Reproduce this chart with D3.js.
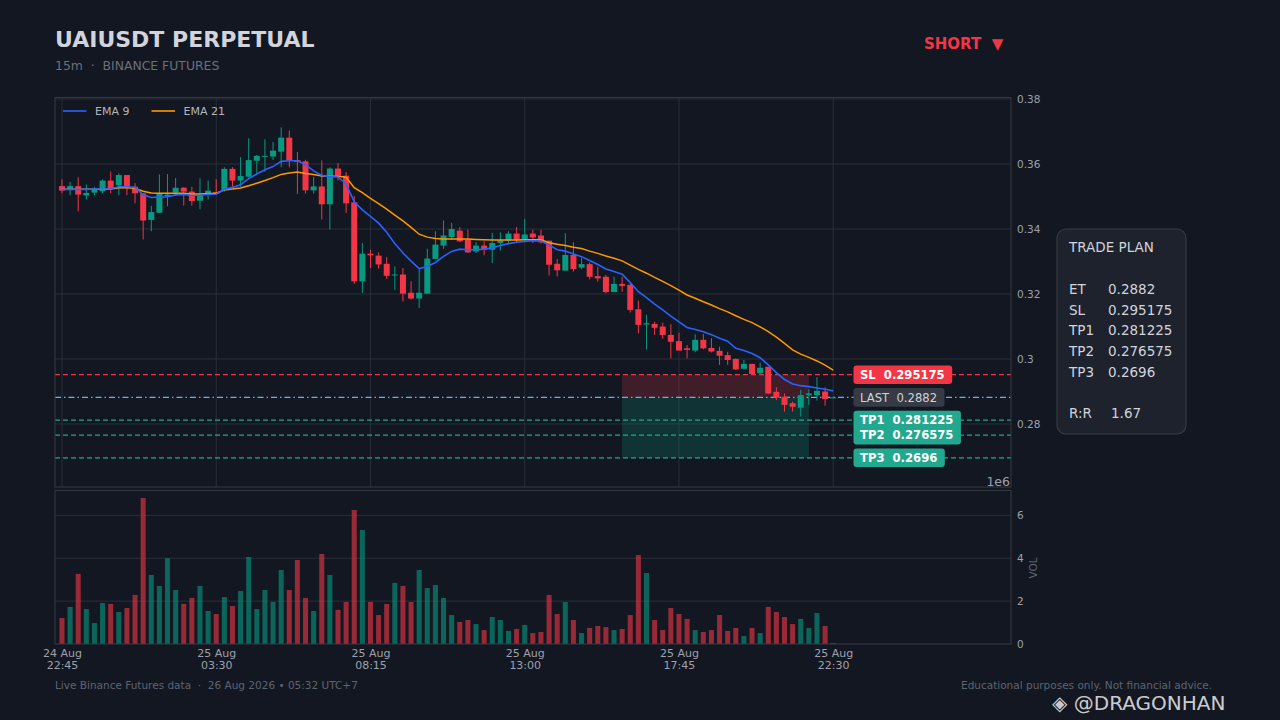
<!DOCTYPE html>
<html>
<head>
<meta charset="utf-8">
<script src="https://cdn.jsdelivr.net/npm/d3@7"></script>
<style>
  html, body { margin: 0; padding: 0; background: #131722; }
  svg { display: block; font-family: "DejaVu Sans", sans-serif; }
  svg text { white-space: pre; }
</style>
</head>
<body>
<svg id="chart" width="1280" height="720"></svg>
<script>
// 15m candles, 24 Aug 22:45 -> 25 Aug 22:30 (96 bars)
const open = [
  0.3532, 0.3522, 0.3532, 0.3503, 0.3512, 0.3516, 0.3549, 0.3535, 0.3566, 0.3530,
  0.3510, 0.3428, 0.3450, 0.3500, 0.3512, 0.3527, 0.3515, 0.3487, 0.3509, 0.3514,
  0.3520, 0.3585, 0.3549, 0.3561, 0.3610, 0.3623, 0.3623, 0.3638, 0.3681, 0.3612,
  0.3608, 0.3519, 0.3531, 0.3476, 0.3586, 0.3564, 0.3482, 0.3239, 0.3324, 0.3318,
  0.3293, 0.3259, 0.3260, 0.3204, 0.3186, 0.3201, 0.3308, 0.3349, 0.3375, 0.3395,
  0.3367, 0.3331, 0.3349, 0.3336, 0.3357, 0.3365, 0.3386, 0.3369, 0.3386, 0.3380,
  0.3364, 0.3293, 0.3272, 0.3320, 0.3281, 0.3292, 0.3255, 0.3253, 0.3206, 0.3231,
  0.3228, 0.3153, 0.3106, 0.3108, 0.3100, 0.3074, 0.3055, 0.3033, 0.3026, 0.3059,
  0.3034, 0.3025, 0.3012, 0.3000, 0.2970, 0.2985, 0.2956, 0.2976, 0.2899, 0.2884,
  0.2864, 0.2850, 0.2889, 0.2889, 0.2900, 0.2880
];
const high = [
  0.3553, 0.3545, 0.3559, 0.3537, 0.3530, 0.3553, 0.3577, 0.3571, 0.3566, 0.3541,
  0.3510, 0.3471, 0.3568, 0.3569, 0.3557, 0.3529, 0.3530, 0.3556, 0.3549, 0.3553,
  0.3590, 0.3590, 0.3621, 0.3679, 0.3628, 0.3676, 0.3668, 0.3713, 0.3703, 0.3637,
  0.3613, 0.3560, 0.3611, 0.3590, 0.3603, 0.3575, 0.3501, 0.3357, 0.3336, 0.3328,
  0.3314, 0.3285, 0.3280, 0.3239, 0.3278, 0.3339, 0.3393, 0.3426, 0.3419, 0.3406,
  0.3398, 0.3359, 0.3362, 0.3388, 0.3390, 0.3393, 0.3406, 0.3431, 0.3398, 0.3398,
  0.3364, 0.3308, 0.3387, 0.3359, 0.3311, 0.3297, 0.3284, 0.3259, 0.3253, 0.3253,
  0.3233, 0.3180, 0.3136, 0.3115, 0.3112, 0.3107, 0.3081, 0.3043, 0.3076, 0.3077,
  0.3064, 0.3038, 0.3022, 0.3002, 0.2997, 0.2985, 0.2989, 0.2976, 0.2913, 0.2894,
  0.2869, 0.2905, 0.2907, 0.2944, 0.2913, 0.2884
];
const low = [
  0.3510, 0.3504, 0.3454, 0.3491, 0.3504, 0.3510, 0.3510, 0.3504, 0.3504, 0.3479,
  0.3368, 0.3393, 0.3450, 0.3470, 0.3502, 0.3472, 0.3472, 0.3461, 0.3491, 0.3508,
  0.3515, 0.3530, 0.3530, 0.3559, 0.3571, 0.3576, 0.3612, 0.3590, 0.3590, 0.3508,
  0.3509, 0.3509, 0.3429, 0.3398, 0.3549, 0.3449, 0.3231, 0.3203, 0.3280, 0.3278,
  0.3246, 0.3213, 0.3177, 0.3183, 0.3157, 0.3201, 0.3308, 0.3339, 0.3367, 0.3360,
  0.3326, 0.3326, 0.3319, 0.3295, 0.3334, 0.3357, 0.3357, 0.3362, 0.3357, 0.3355,
  0.3257, 0.3254, 0.3272, 0.3269, 0.3276, 0.3245, 0.3238, 0.3202, 0.3206, 0.3207,
  0.3143, 0.3079, 0.3030, 0.3074, 0.3062, 0.3002, 0.3026, 0.3002, 0.3021, 0.3030,
  0.3020, 0.2982, 0.2982, 0.2966, 0.2968, 0.2951, 0.2954, 0.2892, 0.2874, 0.2838,
  0.2838, 0.2823, 0.2859, 0.2872, 0.2856, 0.2879
];
const close = [
  0.3518, 0.3532, 0.3506, 0.3511, 0.3520, 0.3549, 0.3524, 0.3566, 0.3530, 0.3510,
  0.3426, 0.3452, 0.3510, 0.3506, 0.3527, 0.3515, 0.3486, 0.3505, 0.3518, 0.3508,
  0.3585, 0.3549, 0.3563, 0.3612, 0.3625, 0.3625, 0.3641, 0.3681, 0.3612, 0.3606,
  0.3519, 0.3531, 0.3476, 0.3586, 0.3564, 0.3479, 0.3239, 0.3324, 0.3319, 0.3291,
  0.3256, 0.3260, 0.3201, 0.3186, 0.3204, 0.3309, 0.3352, 0.3380, 0.3400, 0.3362,
  0.3328, 0.3349, 0.3336, 0.3357, 0.3365, 0.3386, 0.3367, 0.3383, 0.3374, 0.3359,
  0.3290, 0.3273, 0.3320, 0.3277, 0.3292, 0.3253, 0.3248, 0.3206, 0.3231, 0.3225,
  0.3151, 0.3105, 0.3110, 0.3096, 0.3074, 0.3053, 0.3026, 0.3028, 0.3059, 0.3033,
  0.3023, 0.3010, 0.2997, 0.2968, 0.2985, 0.2954, 0.2973, 0.2894, 0.2881, 0.2859,
  0.2853, 0.2889, 0.2894, 0.2902, 0.2877, 0.2882
];
// volume in millions (axis offset 1e6)
const volume = [
  1.21, 1.73, 3.27, 1.63, 0.98, 1.91, 1.87, 1.49, 1.68, 2.29,
  6.81, 3.22, 2.71, 4.00, 2.52, 1.87, 2.15, 2.71, 1.54, 1.40,
  2.19, 1.77, 2.47, 4.06, 1.63, 2.52, 1.96, 3.45, 2.52, 3.92,
  2.15, 1.54, 4.20, 3.22, 1.59, 1.96, 6.25, 5.32, 1.96, 1.35,
  1.87, 2.85, 2.71, 1.96, 3.45, 2.61, 2.75, 2.15, 1.35, 1.03,
  1.12, 0.93, 0.65, 1.26, 1.12, 0.61, 0.70, 0.89, 0.51, 0.56,
  2.29, 1.40, 1.96, 1.12, 0.51, 0.75, 0.84, 0.79, 0.65, 0.70,
  1.35, 4.15, 3.31, 1.12, 0.65, 1.68, 1.40, 1.17, 0.65, 0.56,
  0.65, 1.35, 0.61, 0.75, 0.37, 0.75, 0.51, 1.73, 1.49, 1.26,
  0.93, 1.17, 0.75, 1.45, 0.84, 0.05
];
const ema9 = [
  0.3522, 0.3522, 0.3522, 0.3522, 0.3523, 0.3523, 0.3524, 0.3530, 0.3530, 0.3528,
  0.3505, 0.3497, 0.3498, 0.3499, 0.3505, 0.3506, 0.3503, 0.3504, 0.3506, 0.3507,
  0.3522, 0.3528, 0.3536, 0.3555, 0.3569, 0.3582, 0.3592, 0.3608, 0.3610, 0.3610,
  0.3598, 0.3579, 0.3565, 0.3561, 0.3560, 0.3538, 0.3484, 0.3459, 0.3439, 0.3418,
  0.3390, 0.3355, 0.3326, 0.3301, 0.3278, 0.3285, 0.3297, 0.3316, 0.3331, 0.3338,
  0.3336, 0.3336, 0.3338, 0.3342, 0.3349, 0.3355, 0.3359, 0.3362, 0.3364, 0.3363,
  0.3351, 0.3336, 0.3332, 0.3323, 0.3315, 0.3303, 0.3291, 0.3277, 0.3269, 0.3261,
  0.3235, 0.3207, 0.3189, 0.3169, 0.3151, 0.3132, 0.3114, 0.3097, 0.3091, 0.3084,
  0.3075, 0.3064, 0.3055, 0.3033, 0.3026, 0.3017, 0.3004, 0.2982, 0.2958, 0.2937,
  0.2923, 0.2918, 0.2915, 0.2911, 0.2907, 0.2902
];
const ema21 = [
  0.3522, 0.3522, 0.3522, 0.3522, 0.3522, 0.3522, 0.3523, 0.3527, 0.3527, 0.3525,
  0.3516, 0.3511, 0.3510, 0.3510, 0.3510, 0.3510, 0.3508, 0.3508, 0.3509, 0.3510,
  0.3520, 0.3523, 0.3526, 0.3533, 0.3541, 0.3549, 0.3558, 0.3568, 0.3572, 0.3575,
  0.3571, 0.3568, 0.3563, 0.3562, 0.3562, 0.3559, 0.3527, 0.3512, 0.3494, 0.3478,
  0.3461, 0.3443, 0.3425, 0.3405, 0.3384, 0.3375, 0.3371, 0.3369, 0.3369, 0.3369,
  0.3369, 0.3368, 0.3367, 0.3366, 0.3366, 0.3366, 0.3366, 0.3367, 0.3367, 0.3367,
  0.3358, 0.3353, 0.3349, 0.3344, 0.3340, 0.3332, 0.3325, 0.3317, 0.3310, 0.3302,
  0.3289, 0.3276, 0.3264, 0.3251, 0.3239, 0.3226, 0.3212, 0.3197, 0.3187, 0.3176,
  0.3166, 0.3155, 0.3145, 0.3133, 0.3122, 0.3112, 0.3099, 0.3084, 0.3067, 0.3048,
  0.3028, 0.3015, 0.3005, 0.2994, 0.2981, 0.2966
];

const tickIndex = [0, 19, 38, 57, 76, 95];
const tickDate = ["24 Aug", "25 Aug", "25 Aug", "25 Aug", "25 Aug", "25 Aug"];
const tickTime = ["22:45", "03:30", "08:15", "13:00", "17:45", "22:30"];
const priceTicks = [0.28, 0.30, 0.32, 0.34, 0.36, 0.38];
const priceTickLabels = ["0.28", "0.3", "0.32", "0.34", "0.36", "0.38"];
const volTicks = [0, 2, 4, 6];

const entry = 0.2882;
const levelNames = ["SL", "TP1", "TP2", "TP3"];
const levelValues = [0.295175, 0.281225, 0.276575, 0.2696];
const zoneStart = 69, zoneEnd = 92;
const planLabels = ["ET", "SL", "TP1", "TP2", "TP3"];
const planValues = ["0.2882", "0.295175", "0.281225", "0.276575", "0.2696"];
const riskReward = "1.67";

const UP = "#089981", DOWN = "#f23645", GRID = "#2a2e39", SPINE = "#363a45";
const BG = "#131722", TEXT = "#d1d4dc", MUTED = "#9ea1aa", TEAL = "#22a88f";

const svg = d3.select("#chart");
svg.append("rect").attr("width", 1280).attr("height", 720).attr("fill", BG);

const L = 55, R = 1011;
const top1 = 97.5, bot1 = 487, top2 = 490.5, bot2 = 644;

const x = d3.scaleLinear().domain([-0.86, 116.9]).range([L, R]);
const y = d3.scaleLinear().domain([0.26062, 0.38046]).range([bot1, top1]);
const yv = d3.scaleLinear().domain([0, 7.16]).range([bot2, top2]);
const step = x(1) - x(0);

svg.append("clipPath").attr("id", "clip1")
  .append("rect").attr("x", L).attr("y", top1).attr("width", R - L).attr("height", bot1 - top1);

// grid
const grid = svg.append("g").attr("stroke", GRID).attr("stroke-width", 1);
grid.selectAll(".hy").data(priceTicks).join("line")
    .attr("x1", L).attr("x2", R)
    .attr("y1", d => y(d)).attr("y2", d => y(d));
grid.selectAll(".vx").data(tickIndex).join("line")
    .attr("x1", d => x(d)).attr("x2", d => x(d))
    .attr("y1", top1).attr("y2", bot1);
grid.selectAll(".hv").data(volTicks.slice(1)).join("line")
    .attr("x1", L).attr("x2", R)
    .attr("y1", d => yv(d)).attr("y2", d => yv(d));

const candles = d3.range(open.length).map(i => ({
  i, o: open[i], h: high[i], l: low[i], c: close[i], v: volume[i], up: close[i] >= open[i]
}));

const main = svg.append("g").attr("clip-path", "url(#clip1)");

// trade zone
main.append("rect")
    .attr("x", x(zoneStart)).attr("width", x(zoneEnd) - x(zoneStart))
    .attr("y", y(levelValues[0])).attr("height", y(entry) - y(levelValues[0]))
    .attr("fill", DOWN).attr("fill-opacity", 0.2);
main.append("rect")
    .attr("x", x(zoneStart)).attr("width", x(zoneEnd) - x(zoneStart))
    .attr("y", y(entry)).attr("height", y(levelValues[3]) - y(entry))
    .attr("fill", UP).attr("fill-opacity", 0.22);

// level lines
main.selectAll(".lvl").data(levelValues).join("line")
    .attr("x1", L).attr("x2", R)
    .attr("y1", d => y(d)).attr("y2", d => y(d))
    .attr("stroke", (d, i) => i === 0 ? DOWN : TEAL)
    .attr("stroke-width", 1.2)
    .attr("stroke-dasharray", "5,3");
main.append("line")
    .attr("x1", L).attr("x2", R)
    .attr("y1", y(entry)).attr("y2", y(entry))
    .attr("stroke", "#5fb3ee").attr("stroke-width", 1.1)
    .attr("stroke-dasharray", "6,3,1.5,3");

// candles
const cg = main.append("g");
cg.selectAll(".wick").data(candles).join("line")
    .attr("x1", d => x(d.i)).attr("x2", d => x(d.i))
    .attr("y1", d => y(d.h)).attr("y2", d => y(d.l))
    .attr("stroke", d => d.up ? UP : DOWN).attr("stroke-width", 1);
cg.selectAll(".body").data(candles).join("rect")
    .attr("x", d => x(d.i) - step * 0.37)
    .attr("width", step * 0.74)
    .attr("y", d => y(Math.max(d.o, d.c)))
    .attr("height", d => Math.max(1, Math.abs(y(d.o) - y(d.c))))
    .attr("fill", d => d.up ? UP : DOWN);

// EMAs
const line = arr => d3.line().x((d, i) => x(i)).y(d => y(d))(arr);
main.append("path").attr("d", line(ema21))
    .attr("fill", "none").attr("stroke", "#ff9800").attr("stroke-width", 1.5);
main.append("path").attr("d", line(ema9))
    .attr("fill", "none").attr("stroke", "#2962ff").attr("stroke-width", 1.6);

// volume
svg.append("g").selectAll("rect").data(candles).join("rect")
    .attr("x", d => x(d.i) - step * 0.31)
    .attr("width", step * 0.62)
    .attr("y", d => yv(d.v))
    .attr("height", d => yv(0) - yv(d.v))
    .attr("fill", d => d.up ? UP : DOWN)
    .attr("fill-opacity", 0.6);

// spines
[[top1, bot1], [top2, bot2]].forEach(([t, b]) => {
  svg.append("rect").attr("x", L).attr("y", t).attr("width", R - L).attr("height", b - t)
      .attr("fill", "none").attr("stroke", SPINE).attr("stroke-width", 1);
});

// axes
const yAxis = svg.append("g").attr("transform", `translate(${R},0)`)
    .call(d3.axisRight(y).tickValues(priceTicks)
      .tickFormat((d, i) => priceTickLabels[i]).tickSize(0).tickPadding(6));
const vAxis = svg.append("g").attr("transform", `translate(${R},0)`)
    .call(d3.axisRight(yv).tickValues(volTicks).tickFormat(d3.format("d")).tickSize(0).tickPadding(6));
const xAxis = svg.append("g").attr("transform", `translate(0,${bot2})`)
    .call(d3.axisBottom(x).tickValues(tickIndex).tickSize(0).tickFormat(""));
[yAxis, vAxis, xAxis].forEach(g => {
  g.select(".domain").remove();
  g.selectAll("text").attr("fill", MUTED).attr("font-size", 10.5)
      .attr("font-family", "DejaVu Sans");
});
xAxis.selectAll(".tick text").each(function(d, k) {
  const t = d3.select(this).attr("y", 0).attr("dy", null).attr("font-size", 11);
  t.append("tspan").attr("x", 0).attr("y", 13).text(tickDate[k]);
  t.append("tspan").attr("x", 0).attr("y", 25).text(tickTime[k]);
});

svg.append("text").attr("x", 1010).attr("y", 486).attr("text-anchor", "end")
    .attr("fill", MUTED).attr("font-size", 12.5).text("1e6");
svg.append("text").attr("transform", "translate(1037,568) rotate(-90)")
    .attr("text-anchor", "middle").attr("fill", "#5d6370").attr("font-size", 10.5).text("VOL");

// legend
const legend = [["EMA 9", "#2962ff", 63], ["EMA 21", "#ff9800", 151.5]];
legend.forEach(([name, color, lx]) => {
  svg.append("line").attr("x1", lx).attr("x2", lx + 23.5).attr("y1", 111).attr("y2", 111)
      .attr("stroke", color).attr("stroke-width", 1.6);
  svg.append("text").attr("x", lx + 32).attr("y", 114.8)
      .attr("fill", "#b2b5be").attr("font-size", 11).text(name);
});

// price labels on the right
const labelX = x(97.5);
const tags = [
  {text: `SL  ${levelValues[0]}`, v: levelValues[0], fill: DOWN, color: "#fff", bold: true},
  {text: `LAST  ${entry}`, v: entry, fill: "#363a45", color: TEXT, bold: false},
  {text: `TP1  ${levelValues[1]}`, v: levelValues[1], fill: TEAL, color: "#fff", bold: true},
  {text: `TP2  ${levelValues[2]}`, v: levelValues[2], fill: TEAL, color: "#fff", bold: true},
  {text: `TP3  ${levelValues[3]}`, v: levelValues[3], fill: TEAL, color: "#fff", bold: true}
];
const tagG = svg.append("g");
tags.forEach(t => {
  const g = tagG.append("g");
  const box = g.append("rect");
  const txt = g.append("text").attr("x", labelX + 6.5).attr("y", y(t.v) + 4.2)
      .attr("fill", t.color).attr("font-size", 11.6)
      .attr("font-weight", t.bold ? "bold" : "normal").text(t.text);
  const w = txt.node().getComputedTextLength();
  box.attr("x", labelX).attr("y", y(t.v) - 9.3).attr("width", w + 14).attr("height", 18.6)
      .attr("rx", 3).attr("fill", t.fill);
});

// title block
svg.append("text").attr("x", 55).attr("y", 47).attr("fill", TEXT)
    .attr("font-size", 22).attr("font-weight", "bold").text("UAIUSDT PERPETUAL");
svg.append("text").attr("x", 55).attr("y", 70).attr("fill", "#6b7079")
    .attr("font-size", 12.4).text("15m  ·  BINANCE FUTURES");
svg.append("text").attr("x", 924).attr("y", 48.5).attr("fill", DOWN)
    .attr("font-size", 15).attr("font-weight", "bold").text("SHORT  ▼");

// trade plan box
svg.append("rect").attr("x", 1057).attr("y", 229).attr("width", 129).attr("height", 205)
    .attr("rx", 9).attr("fill", "#1e222d").attr("stroke", SPINE).attr("stroke-width", 1.2);
const plan = svg.append("g").attr("fill", TEXT).attr("font-size", 13.5);
plan.append("text").attr("x", 1069).attr("y", 252.3).text("TRADE PLAN");
planLabels.forEach((lab, i) => {
  plan.append("text").attr("x", 1069).attr("y", 294 + i * 20.7).text(lab);
  plan.append("text").attr("x", 1108).attr("y", 294 + i * 20.7).text(planValues[i]);
});
plan.append("text").attr("x", 1069).attr("y", 417.7).text("R:R");
plan.append("text").attr("x", 1111).attr("y", 417.7).text(riskReward);

// footer
svg.append("text").attr("x", 55).attr("y", 689).attr("fill", "#5d6370").attr("font-size", 10.5)
    .text("Live Binance Futures data  ·  26 Aug 2026 • 05:32 UTC+7");
svg.append("text").attr("x", 961).attr("y", 689).attr("fill", "#5d6370").attr("font-size", 10.5)
    .text("Educational purposes only. Not financial advice.");
svg.append("text").attr("x", 1052).attr("y", 710).attr("fill", "#e4e4e4").attr("fill-opacity", 0.9)
    .attr("font-size", 20).text("◈ @DRAGONHAN");
</script>
</body>
</html>
